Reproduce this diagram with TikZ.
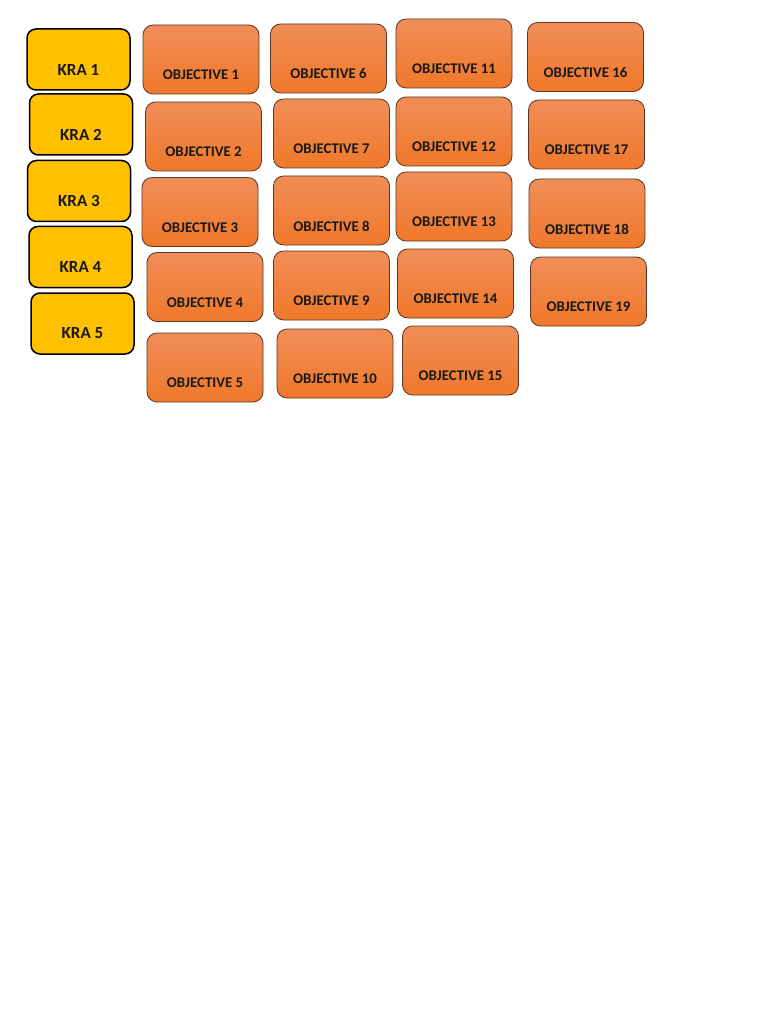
\documentclass[tikz,border=0pt]{standalone}
\usepackage{fontspec}
\setmainfont{Carlito}
\usetikzlibrary{positioning}

\definecolor{kragold}{RGB}{255,192,0}
\definecolor{objtop}{RGB}{240,142,88}
\definecolor{objbot}{RGB}{240,120,42}
\definecolor{objline}{RGB}{90,55,40}

\tikzset{
  krabox/.style={draw=black, line width=1.5pt, fill=kragold, rounded corners=9pt,
    minimum width=103pt, minimum height=61pt, inner sep=0pt},
  kratext/.style={font=\fontsize{17}{20}\selectfont\bfseries, text=black!90},
  objbox/.style={draw=objline, line width=0.8pt, top color=objtop, bottom color=objbot,
    rounded corners=10pt, minimum width=116pt, minimum height=69pt, inner sep=0pt},
  objtext/.style={font=\fontsize{14.8}{17}\selectfont\bfseries, text=black!90}
}

\begin{document}
\begin{tikzpicture}[x=1pt, y=-1pt]
\useasboundingbox[fill=white] (0,0) rectangle (768,1024);
% key result areas
\foreach \n/\x/\y in {1/78.5/59.5, 2/81/124.5, 3/79/191, 4/80.5/257, 5/82.5/323.5} {
 \node[krabox, label={[kratext, yshift=-10pt]center:KRA \n}] (kra\n) at (\x,\y) {};
}
% objectives
\foreach \n/\x/\y in {1/201/59.5, 2/203.5/136.5, 3/200/212, 4/205/287, 5/205/367.5,
  6/328.5/58.5, 7/331.5/133.5, 8/331.5/210.5, 9/331.5/285.5, 10/335/363.5,
  11/454/53.5, 12/454/131.5, 13/454/206.5, 14/455.5/283.5, 15/460.5/360.5,
  16/585.5/57, 17/586.5/134.5, 18/587/213.5, 19/588.5/291.5} {
 \node[objbox, label={[objtext, yshift=-15.5pt]center:OBJECTIVE \n}] (obj\n) at (\x,\y) {};
}
\end{tikzpicture}
\end{document}
